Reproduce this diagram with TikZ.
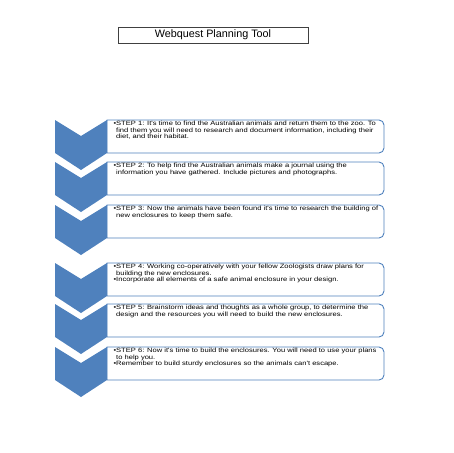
\documentclass[tikz,border=0pt]{standalone}
\usepackage{fontspec}
\setmainfont{Liberation Sans}
\newfontfamily\stepfont[FakeStretch=1.22]{Liberation Sans}
\usepackage{tikz}
\definecolor{chevblue}{HTML}{4F81BD}

\begin{document}
\begin{tikzpicture}[x=1pt,y=1pt,
  chevron/.style={fill=chevblue},
  stepbox/.style={draw=chevblue, line width=0.9pt, fill=white},
  steptext/.style={anchor=north west, inner sep=0pt, align=left,
    font=\stepfont\fontsize{6.2}{6.6}\selectfont}]
  \useasboundingbox (0,0) rectangle (453,-453);
  \node[draw=black!75, line width=0.6pt, minimum width=190, minimum height=16, inner sep=0pt,
    font=\fontsize{10.8}{12}\selectfont] (title) at (213,-35) {Webquest Planning Tool};

  % chevrons and boxes
  \foreach \t in {120,162,205,263,304,347} {
    \path[stepbox] (107,-\t) -- (379,-\t) arc[start angle=90,end angle=0,radius=5]
      -- (384,-\t-28) arc[start angle=0,end angle=-90,radius=5] -- (107,-\t-33) -- cycle;
    \path[chevron] (55,-\t) -- (81,-\t-16) -- (107,-\t) -- (107,-\t-33) -- (81,-\t-50) -- (55,-\t-33) -- cycle;
  }

  \node[steptext] (step1) at (116,-121) {\llap{•}STEP 1: It's time to find the Australian animals and return them to the zoo. To\\find them you will need to research and document information, including their\\diet, and their habitat.};
  \node[steptext] (step2) at (116,-163) {\llap{•}STEP 2: To help find the Australian animals make a journal using the\\information you have gathered. Include pictures and photographs.};
  \node[steptext] (step3) at (116,-206) {\llap{•}STEP 3: Now the animals have been found it's time to research the building of\\new enclosures to keep them safe.};
  \node[steptext] (step4) at (116,-264) {\llap{•}STEP 4: Working co-operatively with your fellow Zoologists draw plans for\\building the new enclosures.\\\llap{•}Incorporate all elements of a safe animal enclosure in your design.};
  \node[steptext] (step5) at (116,-305) {\llap{•}STEP 5: Brainstorm ideas and thoughts as a whole group, to determine the\\design and the resources you will need to build the new enclosures.};
  \node[steptext] (step6) at (116,-348) {\llap{•}STEP 6: Now it's time to build the enclosures. You will need to use your plans\\to help you.\\\llap{•}Remember to build sturdy enclosures so the animals can't escape.};
\end{tikzpicture}
\end{document}
